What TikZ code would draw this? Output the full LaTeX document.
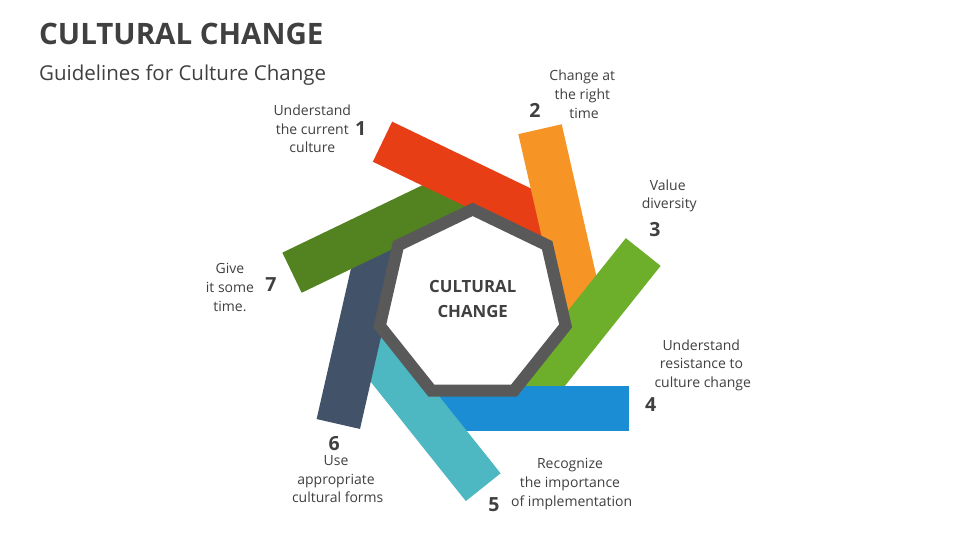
\documentclass[tikz,border=0pt]{standalone}
\usepackage{fontspec}
\setmainfont{Open Sans}
\definecolor{cRed}{HTML}{E83E16}
\definecolor{cOrange}{HTML}{F79426}
\definecolor{cGreen}{HTML}{6DAF2A}
\definecolor{cBlue}{HTML}{1A8DD5}
\definecolor{cCyan}{HTML}{4DB8C2}
\definecolor{cNavy}{HTML}{425369}
\definecolor{cDkGreen}{HTML}{538321}
\definecolor{cHept}{HTML}{595959}
\definecolor{cText}{HTML}{404040}
\newcommand\mybar[3]{%
  \fill[#3, shift={(#1)}, rotate=#2] (0,-22.25) -- (0,22.25) -- (-207,22.25) -- (-207,-22.25) -- cycle;}
\begin{document}
\begin{tikzpicture}[x=1pt,y=-1pt,
  lbl/.style={anchor=base,inner sep=0pt,text=cText,font=\fontsize{14}{17}\selectfont},
  num/.style={anchor=base,inner sep=0pt,text=cText,font=\fontsize{19.5}{22}\selectfont\bfseries},
  hept/.style={draw=cHept,line width=12pt,fill=white,line join=miter}]
\useasboundingbox (0,0) rectangle (960,540);
\fill[white] (0,0) rectangle (960,540);

% title
\node[anchor=base west,inner sep=0pt,text=cText,font=\fontsize{29.5}{32}\selectfont\bfseries] (title) at (39,44.5) {CULTURAL CHANGE};
\node[anchor=base west,inner sep=0pt,text=cText,font=\fontsize{20.5}{24}\selectfont] (subtitle) at (39,81) {Guidelines for Culture Change};

% bars (pinwheel)
\mybar{629,408.5}{0}{cBlue}
\mybar{483.2,487.2}{-51.43}{cCyan}
\mybar{338.3,424}{-102.86}{cNavy}
\mybar{292,272.7}{-154.29}{cDkGreen}
\mybar{382.5,141.7}{154.29}{cRed}
\mybar{540,129.2}{102.86}{cOrange}
\mybar{643.2,252}{51.43}{cGreen}
\begin{scope}
  \clip (480,370) rectangle (700,450);
  \mybar{629,408.5}{0}{cBlue}
\end{scope}

% heptagon
\draw[hept] (472.7,209.4) -- (398.2,245.3) -- (379.8,325.9) -- (431.35,390.6)
  -- (514.05,390.6) -- (565.6,325.9) -- (547.2,245.3) -- cycle;
\node[anchor=base,inner sep=0pt,text=cText,font=\fontsize{16.8}{19}\selectfont\bfseries] (ct1) at (472.7,292.7) {CULTURAL};
\node[anchor=base,inner sep=0pt,text=cText,font=\fontsize{16.8}{19}\selectfont\bfseries] (ct2) at (472.7,317.3) {CHANGE};

% label 1
\node[lbl] (l1a) at (312.3,115.7) {Understand};
\node[lbl] (l1b) at (312.3,134.3) {the current};
\node[lbl] (l1c) at (312.3,152.8) {culture};
\node[num] (n1) at (360.7,135.7) {1};
% label 2
\node[lbl] (l2a) at (582.3,80.7) {Change at};
\node[lbl] (l2b) at (582.3,99.3) {the right};
\node[lbl] (l2c) at (584,118.3) {time};
\node[num] (n2) at (535,117.3) {2};
% label 3
\node[lbl] (l3a) at (667.7,190) {Value};
\node[lbl] (l3b) at (669.3,208.3) {diversity};
\node[num] (n3) at (655,236) {3};
% label 4
\node[lbl] (l4a) at (701.3,350) {Understand};
\node[lbl] (l4b) at (701.5,368.3) {resistance to};
\node[lbl] (l4c) at (702.7,387.3) {culture change};
\node[num] (n4) at (650.7,411.7) {4};
% label 5
\node[lbl] (l5a) at (570,468.3) {Recognize};
\node[lbl] (l5b) at (570,487.3) {the importance};
\node[lbl] (l5c) at (571.7,506) {of implementation};
\node[num] (n5) at (494,511.7) {5};
% label 6
\node[num] (n6) at (334.3,450) {6};
\node[lbl] (l6a) at (336,465) {Use};
\node[lbl] (l6b) at (336,484) {appropriate};
\node[lbl] (l6c) at (337.7,502.3) {cultural forms};
% label 7
\node[lbl] (l7a) at (230,273.3) {Give};
\node[lbl] (l7b) at (230,292.3) {it some};
\node[lbl] (l7c) at (230,311) {time.};
\node[num] (n7) at (271,291) {7};
\end{tikzpicture}
\end{document}
